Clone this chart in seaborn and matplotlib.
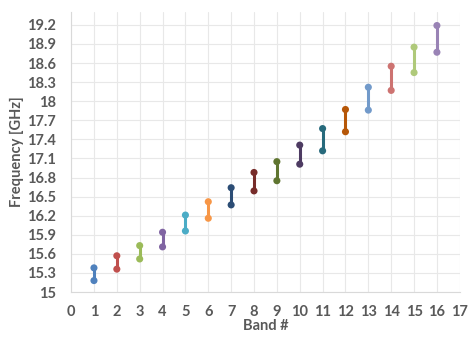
import matplotlib
matplotlib.use("Agg")
import matplotlib.pyplot as plt
import seaborn as sns
import pandas as pd

bands = list(range(1, 17))
f_low = [15.18, 15.36, 15.52, 15.71, 15.96, 16.16, 16.37, 16.59,
         16.75, 17.01, 17.22, 17.52, 17.86, 18.17, 18.45, 18.77]
f_high = [15.38, 15.57, 15.73, 15.94, 16.21, 16.42, 16.64, 16.88,
          17.05, 17.31, 17.57, 17.87, 18.22, 18.55, 18.85, 19.19]
colors = ["#4F81BD", "#C0504D", "#9BBB59", "#8064A2", "#4BACC6", "#F79646",
          "#2C4D75", "#772C2A", "#5F7530", "#4D3B62", "#276A7C", "#B65708",
          "#729ACA", "#CD7371", "#AFC97A", "#9983B5"]
xticks = list(range(0, 18))
yticks = [round(15 + 0.3 * i, 1) for i in range(15)]

df = pd.DataFrame({
    "band": bands + bands,
    "freq": f_low + f_high,
})

sns.set_theme(style="white")
plt.rcParams["font.family"] = ["Lato", "DejaVu Sans"]
plt.rcParams["font.weight"] = "bold"

fig = plt.figure(figsize=(4.74, 3.38), dpi=100)
ax = fig.add_axes([0.15, 0.136, 0.82, 0.828])

pal = dict(zip(bands, colors))
sns.lineplot(data=df, x="band", y="freq", hue="band", palette=pal,
             estimator=None, units="band", linewidth=2.2, legend=False,
             ax=ax, sort=False, zorder=3)
sns.scatterplot(data=df, x="band", y="freq", hue="band", palette=pal,
                s=26, linewidth=0, legend=False, ax=ax, zorder=4)

ax.set_xlim(0, 17)
ax.set_ylim(15, 19.4)
ax.set_xticks(xticks)
ax.set_yticks(yticks)
ax.set_xticklabels([str(t) for t in xticks])
ax.set_yticklabels([("%g" % t) for t in yticks])
ax.grid(True, color="#e8e8e8", linewidth=0.8)
ax.set_axisbelow(True)
for s in ["top", "right"]:
    ax.spines[s].set_visible(False)
for s in ["left", "bottom"]:
    ax.spines[s].set_color("#d9d9d9")
    ax.spines[s].set_linewidth(0.8)
ax.tick_params(axis="both", length=0, labelsize=10.5, labelcolor="#595959")
ax.tick_params(axis="y", pad=11)
ax.tick_params(axis="x", pad=9)
for lab in ax.get_xticklabels() + ax.get_yticklabels():
    lab.set_fontweight("bold")
ax.set_xlabel("Band #", fontsize=10.5, fontweight="bold", color="#595959", labelpad=0)
ax.set_ylabel("Frequency [GHz]", fontsize=10.5, fontweight="bold", color="#595959", labelpad=2)

fig.savefig("out.png", dpi=100)
